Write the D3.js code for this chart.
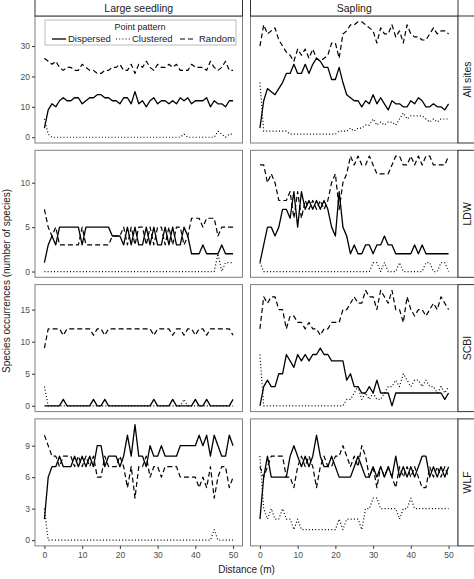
<!DOCTYPE html>
<html>
<head>
<meta charset="utf-8">
<script src="https://cdn.jsdelivr.net/npm/d3@7"></script>
<style>
  body { margin: 0; background: #fff; }
  text { font-family: "Liberation Sans", Arial, sans-serif; }
</style>
</head>
<body>
<script>
const distance = [0,1,2,3,4,5,6,7,8,9,10,11,12,13,14,15,16,17,18,19,20,21,22,23,24,25,26,27,28,29,30,31,32,33,34,35,36,37,38,39,40,41,42,43,44,45,46,47,48,49,50];
const patterns = ["Dispersed", "Clustered", "Random"];
const sizeClasses = ["Large seedling", "Sapling"];
const sites = ["All sites", "LDW", "SCBI", "WLF"];
const xTicks = [0, 10, 20, 30, 40, 50];
const yTicks = [[0, 10, 20, 30], [0, 5, 10], [0, 5, 10, 15], [0, 3, 6, 9]];
const yMax = [38, 13, 18, 11];

// All sites
const dispAllLS = [3,9,11,10,12,13,12,12,13,13,11,12,13,13,14,14,13,13,12,12,11,13,13,11,15,11,12,10,12,13,11,12,12,11,12,11,13,12,13,11,12,12,12,13,10,12,11,11,10,12,12];
const clusAllLS = [6,1,0,0,0,0,0,0,0,0,0,0,0,0,0,0,0,0,0,0,0,0,0,0,0,0,0,0,0,0,0,0,0,0,0,0,0,1,0,0,0,0,0,0,0,0,2,1,0,1,1];
const randAllLS = [26,25,24,25,23,22,23,23,22,22,24,23,22,22,21,21,22,22,23,23,24,22,22,24,21,24,23,25,23,22,24,23,23,24,23,24,22,22,22,24,23,23,23,22,25,23,22,23,25,22,22];
const dispAllSa = [3,12,16,15,14,16,18,21,21,24,21,21,24,21,24,26,25,23,23,19,19,23,18,14,13,12,12,10,12,11,14,11,13,11,9,12,11,11,10,10,12,11,13,12,10,10,11,10,10,9,11];
const clusAllSa = [18,2,2,2,2,2,2,2,1,1,1,1,1,1,1,1,1,1,1,1,1,2,2,2,3,2,3,3,4,4,6,4,5,4,5,5,4,6,8,6,7,7,7,7,6,5,6,5,6,6,6];
const randAllSa = [30,37,34,35,36,32,30,28,27,25,29,27,29,26,29,26,25,26,27,31,31,26,34,35,37,37,38,38,37,36,35,31,36,34,34,37,33,35,31,37,34,33,33,32,32,34,36,34,35,35,34];

// LDW
const dispLdwLS = [1,3,4,3,5,5,5,5,5,5,3,5,5,5,5,5,5,5,4,4,4,3,5,3,5,3,3,5,3,5,3,3,5,3,5,3,3,5,4,2,2,2,3,2,2,2,2,3,2,2,2];
const clusLdwLS = [0,0,0,0,0,0,0,0,0,0,0,0,0,0,0,0,0,0,0,0,0,0,0,0,0,0,0,0,0,0,0,0,0,0,0,0,0,0,0,0,0,0,0,0,0,0,2,0,1,1,1];
const randLdwLS = [7,5,4,5,3,3,3,3,3,3,5,3,3,3,3,3,3,3,4,4,4,5,3,5,3,5,5,3,5,3,5,5,3,5,3,5,5,3,4,6,6,6,5,6,6,6,4,5,5,5,5];
const dispLdwSa = [1,3,5,5,4,5,7,7,6,9,5,9,7,8,7,8,7,8,7,5,4,9,5,4,2,3,2,2,3,3,2,3,3,4,3,3,2,2,2,2,2,3,2,3,2,2,2,2,2,2,2];
const clusLdwSa = [1,0,0,0,0,0,0,0,0,0,0,0,0,0,0,0,0,0,0,0,0,0,0,0,0,0,0,0,0,0,1,1,0,1,0,0,0,1,0,0,0,0,0,0,1,1,0,0,1,1,0];
const randLdwSa = [12,12,10,11,10,8,8,8,9,6,9,6,8,7,8,7,8,7,8,10,11,7,10,11,13,12,13,12,12,13,12,11,11,11,11,12,13,13,12,12,13,12,13,12,13,13,12,12,12,12,13];

// SCBI
const dispScbLS = [0,0,0,0,0,1,0,0,0,0,0,0,0,1,0,0,1,0,0,0,0,0,0,0,0,0,0,0,0,1,0,0,0,0,1,0,0,0,0,0,1,0,0,1,0,0,0,0,0,0,1];
const clusScbLS = [3,0,0,0,0,0,0,0,0,0,0,0,0,0,0,0,0,0,0,0,0,0,0,0,0,0,0,0,0,0,0,0,0,0,0,0,0,1,0,0,0,0,0,0,0,0,0,0,0,0,0];
const randScbLS = [9,12,12,12,12,11,12,12,12,12,12,12,12,11,12,12,11,12,12,12,12,12,12,12,12,12,12,12,12,11,12,12,12,12,11,12,12,11,12,12,11,12,12,11,12,12,12,12,12,12,11];
const dispScbSa = [0,3,4,3,3,5,5,8,7,6,8,7,8,7,8,8,9,8,8,7,7,7,7,4,5,3,3,2,2,3,2,4,2,2,2,0,2,2,2,2,2,2,2,2,2,2,2,2,2,1,2];
const clusScbSa = [8,0,0,0,0,0,0,0,0,0,0,0,0,0,0,0,0,0,0,0,0,0,0,1,1,2,3,1,2,1,2,1,1,2,3,3,4,3,5,4,3,4,4,3,4,3,3,2,3,2,3];
const randScbSa = [12,17,16,17,17,15,15,12,14,14,13,13,12,13,12,12,11,12,12,13,13,13,15,15,16,17,16,16,18,17,17,15,18,17,16,18,15,15,13,17,15,14,15,15,14,15,16,15,17,16,15];

// WLF
const dispWlfLS = [2,6,7,7,8,7,7,7,8,7,8,7,8,7,9,9,7,8,8,8,7,8,10,8,11,8,8,7,9,8,8,9,8,8,8,8,9,9,9,9,9,10,9,10,8,10,9,8,8,10,9];
const clusWlfLS = [3,0,0,0,0,0,0,0,0,0,0,0,0,0,0,0,0,0,0,0,0,0,0,0,0,0,0,0,0,0,0,0,0,0,0,0,0,0,0,0,0,0,0,0,0,1,0,0,0,0,0];
const randWlfLS = [10,9,8,8,7,8,8,8,7,8,7,8,7,8,6,6,8,7,7,7,8,7,5,7,4,7,7,8,6,7,7,6,7,7,7,7,6,6,6,6,6,5,6,5,7,4,6,7,7,5,6];
const dispWlfSa = [2,6,8,6,6,6,6,6,8,9,8,7,8,7,8,10,8,7,7,8,7,6,6,6,6,7,8,7,6,6,7,6,7,6,7,6,8,6,7,6,7,6,7,8,8,6,7,6,7,6,7];
const clusWlfSa = [8,3,2,3,2,2,3,2,2,1,2,1,1,1,1,1,1,1,1,1,1,2,1,2,2,2,2,1,3,3,4,4,3,3,3,3,3,2,3,3,4,3,3,3,3,3,3,3,3,3,3];
const randWlfSa = [7,6,7,8,8,8,8,6,6,5,7,8,7,8,7,5,7,8,7,7,8,8,9,8,7,8,7,9,8,6,7,5,7,6,7,6,5,7,6,7,6,7,6,5,5,7,6,7,6,7,6];

const panels = [
    {row: 0, col: 0, series: [dispAllLS, clusAllLS, randAllLS]},
    {row: 0, col: 1, series: [dispAllSa, clusAllSa, randAllSa]},
    {row: 1, col: 0, series: [dispLdwLS, clusLdwLS, randLdwLS]},
    {row: 1, col: 1, series: [dispLdwSa, clusLdwSa, randLdwSa]},
    {row: 2, col: 0, series: [dispScbLS, clusScbLS, randScbLS]},
    {row: 2, col: 1, series: [dispScbSa, clusScbSa, randScbSa]},
    {row: 3, col: 0, series: [dispWlfLS, clusWlfLS, randWlfLS]},
    {row: 3, col: 1, series: [dispWlfSa, clusWlfSa, randWlfSa]}
]

const W = 474, H = 579
const padL = 35, pw = 207.5, colGap = 8
const padT = 16, ph = 127, rowGap = 7.3
const stripW = 16
const dashes = ["none", "1,2.2", "5,3"]
const widths = [1.3, 1.2, 1.2]
const tickCol = "#4d4d4d"

const colX = c => padL + c * (pw + colGap)
const rowY = r => padT + r * (ph + rowGap)

let svg = d3.select("body")
    .append("svg")
    .attr("width", W)
    .attr("height", H)
    .style("background-color", "white")

let defs = svg.append("defs")

panels.forEach((p, k) => {
    let px = colX(p.col), py = rowY(p.row)
    let x = d3.scaleLinear().domain([-2.5, 52.5]).range([px, px + pw])
    let y = d3.scaleLinear().domain([-yMax[p.row] * 0.05, yMax[p.row] * 1.05]).range([py + ph, py])

    defs.append("clipPath").attr("id", "clip" + k)
        .append("rect").attr("x", px).attr("y", py).attr("width", pw).attr("height", ph)

    let g = svg.append("g")

    let line = d3.line()
        .x((d, i) => x(distance[i]))
        .y(d => y(d))

    g.append("g").attr("clip-path", "url(#clip" + k + ")")
        .selectAll("path")
        .data(p.series)
        .join("path")
        .attr("d", line)
        .attr("fill", "none")
        .attr("stroke", "black")
        .attr("stroke-width", (d, i) => widths[i])
        .attr("stroke-dasharray", (d, i) => dashes[i])
        .attr("stroke-linejoin", "round")

    g.append("rect")
        .attr("x", px).attr("y", py)
        .attr("width", pw).attr("height", ph)
        .attr("fill", "none")
        .attr("stroke", "#7f7f7f")
        .attr("stroke-width", 1)

    if (p.col == 0) {
        let ax = g.append("g")
            .attr("transform", "translate(" + px + ",0)")
            .call(d3.axisLeft(y).tickValues(yTicks[p.row]).tickSize(3).tickPadding(2))
        ax.select(".domain").remove()
        ax.selectAll("line").attr("stroke", "#333")
        ax.selectAll("text").attr("fill", tickCol).style("font-size", "8.5px")
            .style("font-family", "\"Liberation Sans\", Arial, sans-serif")
    }
    if (p.row == 3) {
        let ax = g.append("g")
            .attr("transform", "translate(0," + (py + ph) + ")")
            .call(d3.axisBottom(x).tickValues(xTicks).tickSize(3).tickPadding(3))
        ax.select(".domain").remove()
        ax.selectAll("line").attr("stroke", "#333")
        ax.selectAll("text").attr("fill", tickCol).style("font-size", "8.5px")
            .style("font-family", "\"Liberation Sans\", Arial, sans-serif")
    }
})

// strips on top
sizeClasses.forEach((s, c) => {
    svg.append("rect")
        .attr("x", colX(c)).attr("y", -1)
        .attr("width", pw).attr("height", padT + 1)
        .attr("fill", "white").attr("stroke", "#333").attr("stroke-width", 1)
    svg.append("text")
        .attr("x", colX(c) + pw / 2).attr("y", padT / 2)
        .attr("text-anchor", "middle").attr("dominant-baseline", "central")
        .style("font-size", "10.5px").style("fill", "#1a1a1a")
        .text(s)
})

// strips on the right
sites.forEach((s, r) => {
    let sx = colX(1) + pw
    svg.append("rect")
        .attr("x", sx).attr("y", rowY(r))
        .attr("width", stripW + 2).attr("height", ph)
        .attr("fill", "white").attr("stroke", "#333").attr("stroke-width", 1)
    svg.append("text")
        .attr("transform", "translate(" + (sx + stripW / 2 + 0.5) + "," + (rowY(r) + ph / 2) + ") rotate(-90)")
        .attr("text-anchor", "middle").attr("dominant-baseline", "central")
        .style("font-size", "10.5px").style("fill", "#1a1a1a")
        .text(s)
})

// axis titles
svg.append("text")
    .attr("x", (padL + colX(1) + pw) / 2).attr("y", 573)
    .attr("text-anchor", "middle")
    .style("font-size", "10px").style("fill", "#1a1a1a")
    .text("Distance (m)")

svg.append("text")
    .attr("transform", "translate(10," + (padT + (rowY(3) + ph - padT) / 2) + ") rotate(-90)")
    .attr("text-anchor", "middle")
    .style("font-size", "10px").style("fill", "#1a1a1a")
    .text("Species occurrences (number of species)")

// legend
let leg = svg.append("g")
leg.append("rect")
    .attr("x", 45).attr("y", 20).attr("width", 191).attr("height", 25)
    .attr("fill", "white").attr("stroke", "#aaa").attr("stroke-width", 0.8)
leg.append("text")
    .attr("x", 140).attr("y", 29.5)
    .attr("text-anchor", "middle")
    .style("font-size", "9px").style("fill", "#1a1a1a")
    .text("Point pattern")

let keyX = [52, 116, 180]
let item = leg.selectAll("g.item")
    .data(patterns)
    .join("g")
    .attr("class", "item")
    .attr("transform", (d, i) => "translate(" + keyX[i] + ",39)")
item.append("line")
    .attr("x1", 0).attr("x2", (d, i) => i == 2 ? 16 : 14)
    .attr("stroke", "black")
    .attr("stroke-width", (d, i) => widths[i])
    .attr("stroke-dasharray", (d, i) => dashes[i])
item.append("text")
    .attr("x", (d, i) => i == 2 ? 19 : 16).attr("y", 3.3)
    .style("font-size", "9.5px").style("fill", "#1a1a1a")
    .text(d => d)
</script>
</body>
</html>
